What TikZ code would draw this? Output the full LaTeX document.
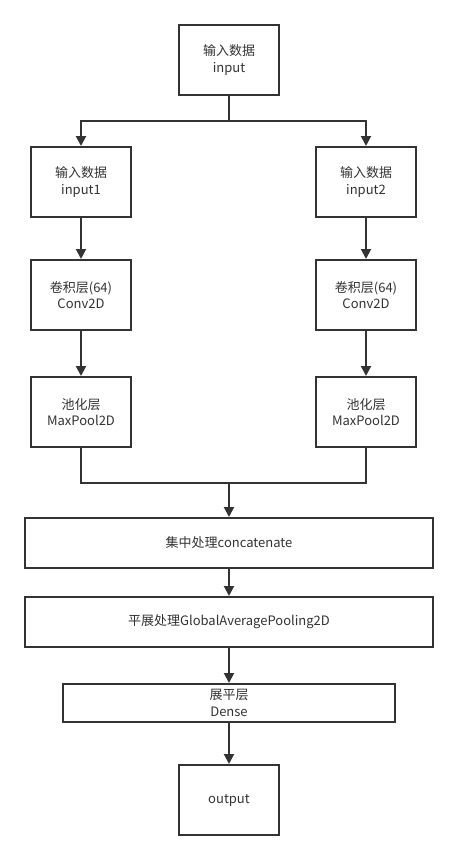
\documentclass[tikz,border=0pt]{standalone}
\usepackage{fontspec}
\setmainfont{Noto Sans CJK SC}
\usetikzlibrary{arrows.meta,positioning}

\tikzset{
    layer/.style={draw=linegray, line width=2pt, fill=white, align=center,
        minimum width=100pt, minimum height=70pt, inner sep=0pt,
        text=textgray, font=\fontsize{13}{16.5}\selectfont},
    wide/.style={layer, minimum width=408pt, minimum height=50pt},
    flow/.style={draw=linegray, line width=2pt},
    arrow/.style={flow, -{Triangle[width=10pt,length=10pt]}},
}
\definecolor{linegray}{HTML}{333333}
\definecolor{textgray}{HTML}{333333}

\begin{document}
\begin{tikzpicture}[x=1pt, y=-1pt]
    \useasboundingbox (0,0) rectangle (458,860);
    % input and the two branches
    \node [layer] (input) at (229,60) {输入数据\\input};
    \coordinate (split) at (229,121);
    \node [layer] (in1) at (81,182) {输入数据\\input1};
    \node [layer] (in2) at (366,182) {输入数据\\input2};
    \node [layer] (conv1) at (81,295) {卷积层(64)\\Conv2D};
    \node [layer] (conv2) at (366,295) {卷积层(64)\\Conv2D};
    \node [layer] (pool1) at (81,412) {池化层\\MaxPool2D};
    \node [layer] (pool2) at (366,412) {池化层\\MaxPool2D};
    \coordinate (merge) at (229,483);
    % merged part
    \node [wide] (concat) at (229,543) {集中处理concatenate};
    \node [wide] (gap) at (229,622) {平展处理GlobalAveragePooling2D};
    \node [layer, minimum width=332pt, minimum height=38pt] (dense) at (229,703) {展平层\\Dense};
    \node [layer] (output) at (229,800) {output};

    \draw [flow] (input) -- (split);
    \draw [arrow] (split) -| (in1);
    \draw [arrow] (split) -| (in2);
    \draw [arrow] (in1) -- (conv1);
    \draw [arrow] (in2) -- (conv2);
    \draw [arrow] (conv1) -- (pool1);
    \draw [arrow] (conv2) -- (pool2);
    \draw [flow] (pool1) |- (merge);
    \draw [flow] (pool2) |- (merge);
    \draw [arrow] (merge) -- (concat);
    \draw [arrow] (concat) -- (gap);
    \draw [arrow] (gap) -- (dense);
    \draw [arrow] (dense) -- (output);
\end{tikzpicture}
\end{document}
